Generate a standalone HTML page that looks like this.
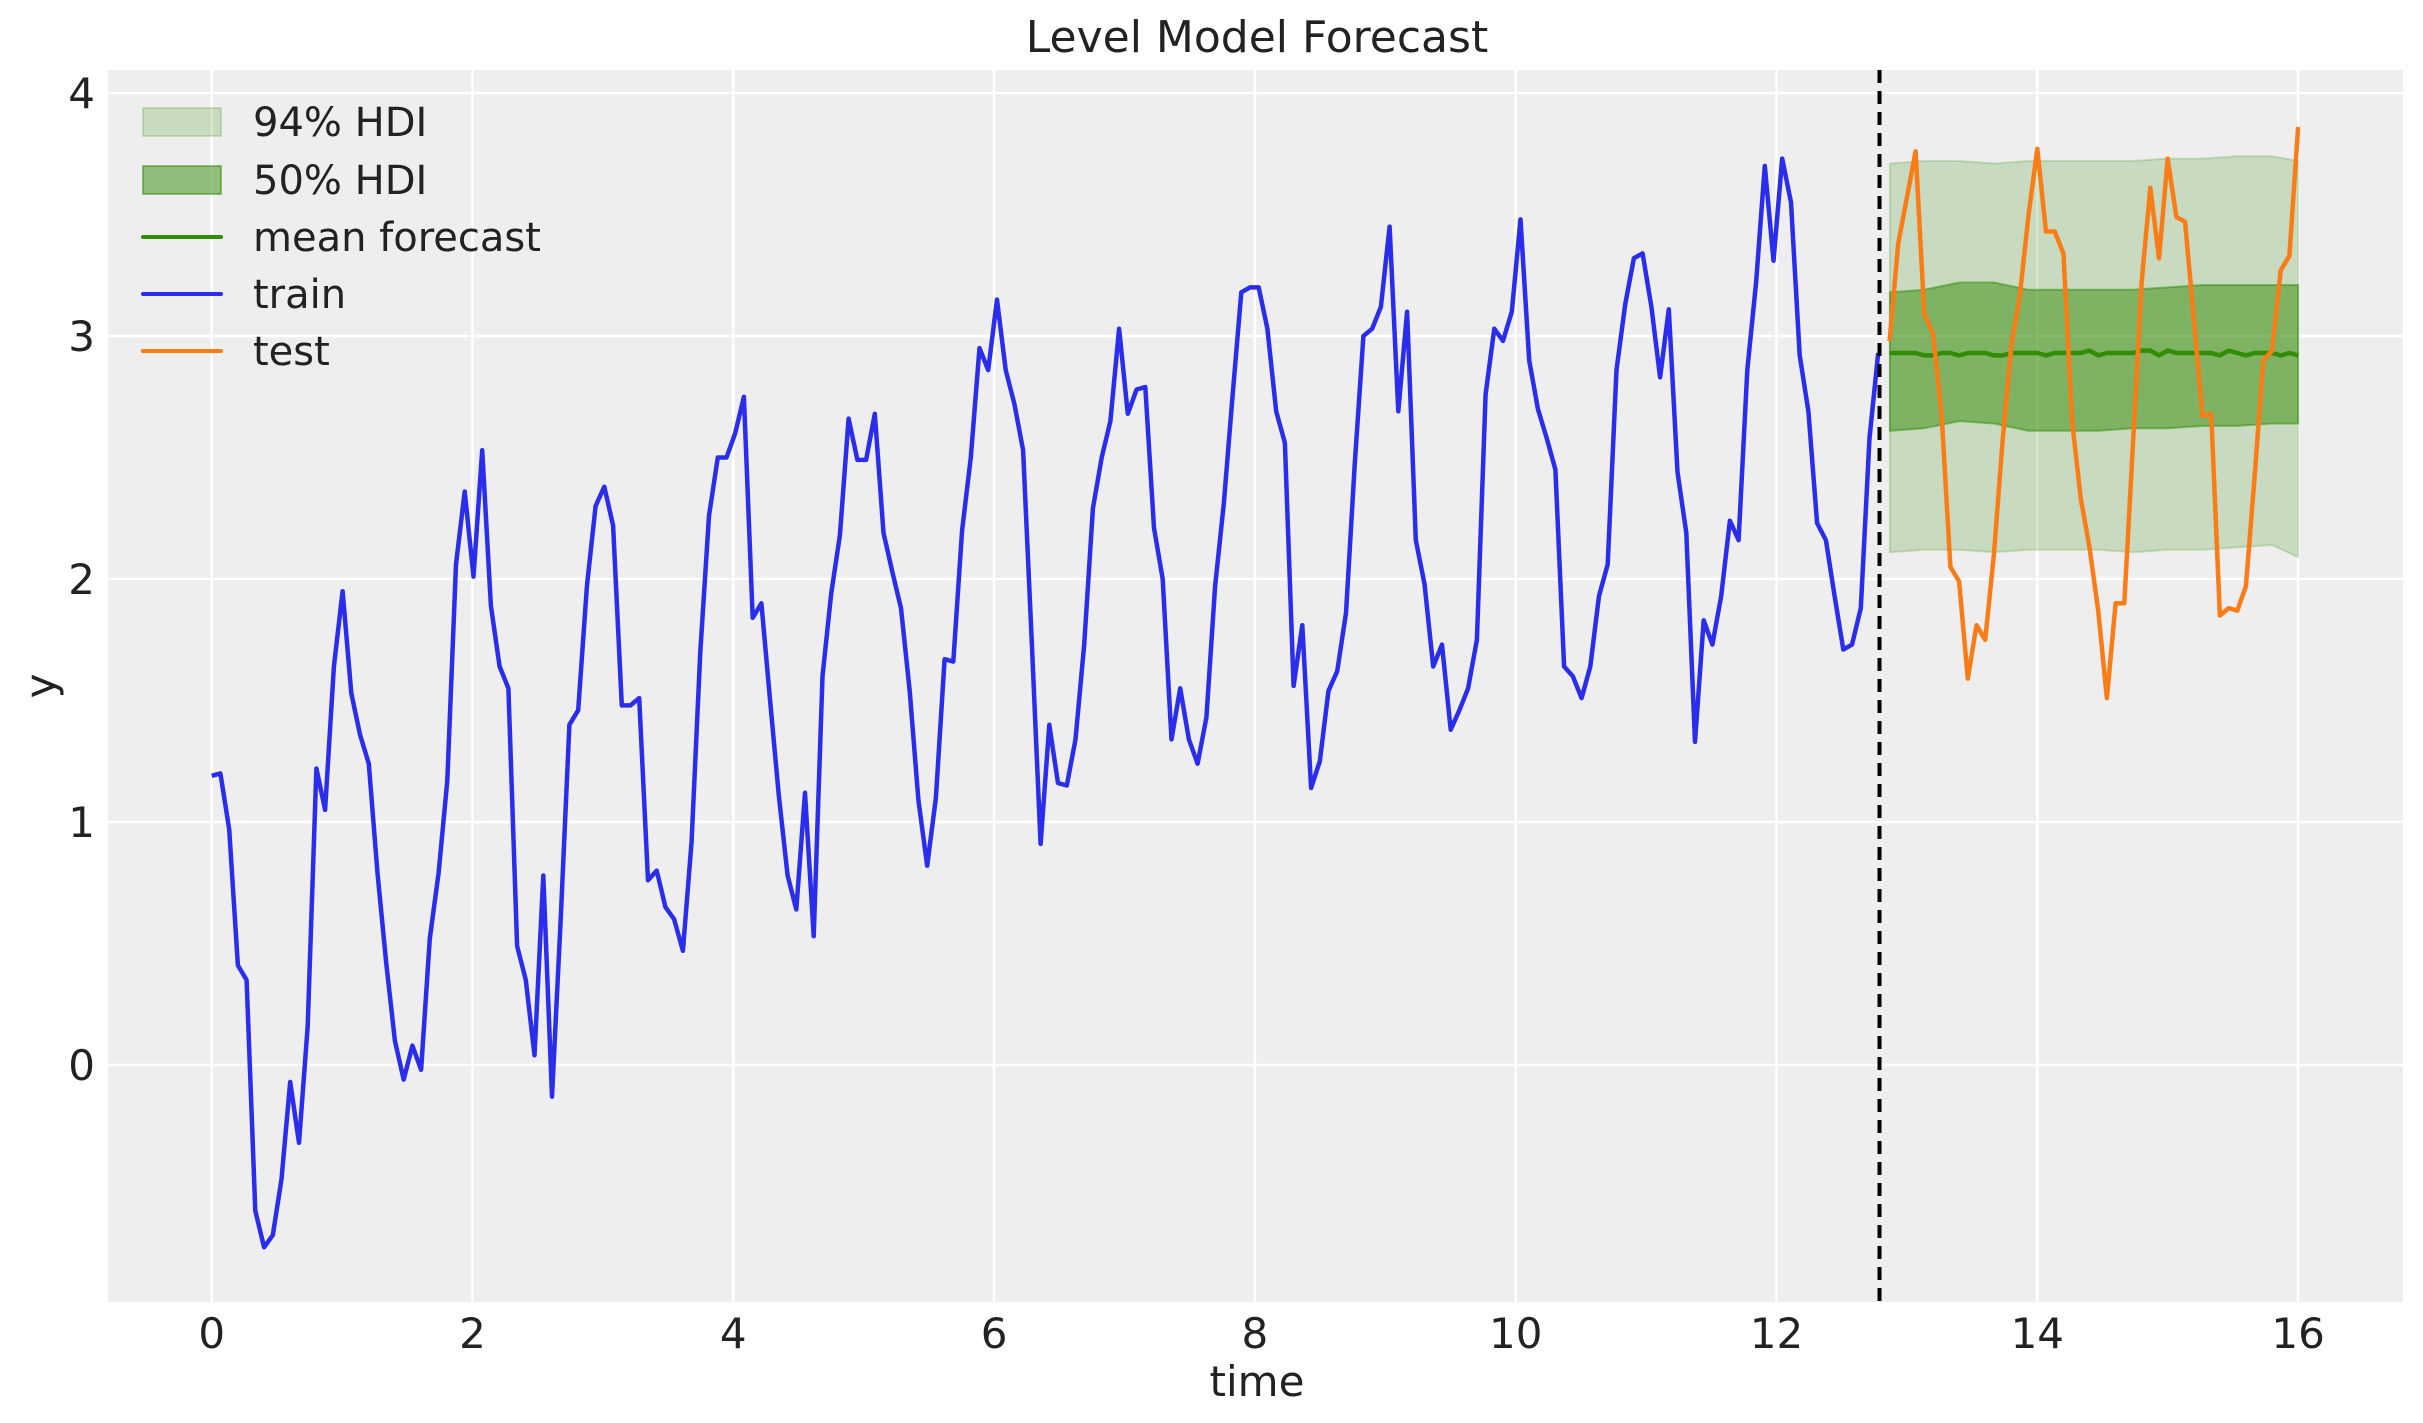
<!DOCTYPE html>
<html><head><meta charset="utf-8"><style>
html,body{margin:0;padding:0;background:#fff;}
svg{display:block;font-family:"DejaVu Sans","Liberation Sans",sans-serif;}
</style></head><body>
<svg id="chart" xmlns="http://www.w3.org/2000/svg" width="2423" height="1423" viewBox="0 0 2423 1423">
<rect x="0" y="0" width="2423" height="1423" fill="#fff"/>
<rect x="108" y="70" width="2295" height="1232" fill="#eeeeee"/>
<g id="grid"></g>
<g id="bands"></g>
<g id="lines"></g>
<g id="axes"></g>
<text x="1257" y="52" font-size="44" text-anchor="middle" fill="#222">Level Model Forecast</text>
<text x="1257" y="1396" font-size="42" text-anchor="middle" fill="#222">time</text>
<text x="0" y="0" font-size="42" text-anchor="middle" fill="#222" transform="translate(55,686) rotate(-90)">y</text>
<g>
  <rect x="143" y="108" width="78" height="28" fill="#328c06" fill-opacity="0.2" stroke="#328c06" stroke-opacity="0.2" stroke-width="2"/>
  <text x="253" y="136" font-size="40" fill="#222">94% HDI</text>
  <rect x="143" y="166" width="78" height="28" fill="#328c06" fill-opacity="0.5" stroke="#328c06" stroke-opacity="0.5" stroke-width="2"/>
  <text x="253" y="194" font-size="40" fill="#222">50% HDI</text>
  <line x1="143" y1="237" x2="221" y2="237" stroke="#328c06" stroke-width="4" stroke-linecap="round"/>
  <text x="253" y="251" font-size="40" fill="#222">mean forecast</text>
  <line x1="143" y1="294" x2="221" y2="294" stroke="#2a2eec" stroke-width="4" stroke-linecap="round"/>
  <text x="253" y="308" font-size="40" fill="#222">train</text>
  <line x1="143" y1="351" x2="221" y2="351" stroke="#fa7c17" stroke-width="4" stroke-linecap="round"/>
  <text x="253" y="365" font-size="40" fill="#222">test</text>
</g>
</svg>
<script>
const xTicks = [0, 2, 4, 6, 8, 10, 12, 14, 16];
const yTicks = [0, 1, 2, 3, 4];
const trainStart = 0, trainEnd = 12.78;
const trainY = [1.19,1.20,0.97,0.41,0.35,-0.60,-0.75,-0.70,-0.47,-0.07,-0.32,0.16,1.22,1.05,1.64,1.95,1.53,1.36,1.24,0.79,0.42,0.10,-0.06,0.08,-0.02,0.52,0.79,1.17,2.06,2.36,2.01,2.53,1.89,1.64,1.55,0.49,0.35,0.04,0.78,-0.13,0.60,1.40,1.46,1.97,2.30,2.38,2.22,1.48,1.48,1.51,0.76,0.80,0.65,0.60,0.47,0.92,1.70,2.26,2.50,2.50,2.60,2.75,1.84,1.90,
1.50,1.11,0.78,0.64,1.12,0.53,1.60,1.94,2.18,2.66,2.49,2.49,2.68,2.19,2.03,1.88,1.54,1.09,0.82,1.10,1.67,1.66,2.20,2.50,2.95,2.86,3.15,2.86,2.72,2.53,1.73,0.91,1.40,1.16,1.15,1.34,1.73,2.29,2.50,2.65,3.03,2.68,2.78,2.79,2.21,2.00,1.34,1.55,1.34,1.24,1.43,1.97,2.31,2.75,3.18,3.20,3.20,3.03,2.69,
2.56,1.56,1.81,1.14,1.25,1.54,1.62,1.86,2.47,3.00,3.03,3.12,3.45,2.69,3.10,2.16,1.98,1.64,1.73,1.38,1.46,1.55,1.75,2.76,3.03,2.98,3.10,3.48,2.90,2.70,2.58,2.45,1.64,1.60,1.51,1.64,1.93,2.06,2.86,3.13,3.32,3.34,3.12,2.83,3.11,2.44,2.19,1.33,1.83,1.73,1.93,2.24,2.16,2.86,3.22,3.70,3.31,3.73,3.55,2.92,2.69,2.23,2.16,1.93,1.71,1.73,1.88,2.58,2.93];
const testStart = 12.867, testEnd = 16.0;
const testY = [2.98,3.38,3.57,3.76,3.09,3.01,2.67,2.05,1.99,1.59,1.81,1.75,2.10,2.57,2.96,3.17,3.50,3.77,3.43,3.43,3.34,2.65,2.33,2.13,1.87,1.51,1.90,1.90,2.55,3.22,3.61,3.32,3.73,3.49,3.47,3.07,2.67,2.68,1.85,1.88,1.87,1.97,2.42,2.90,2.94,3.27,3.33,3.86];
const meanY = [2.93,2.93,2.93,2.93,2.92,2.92,2.93,2.93,2.92,2.93,2.93,2.93,2.92,2.92,2.93,2.93,2.93,2.93,2.92,2.93,2.93,2.93,2.93,2.94,2.92,2.93,2.93,2.93,2.93,2.94,2.94,2.92,2.94,2.93,2.93,2.93,2.93,2.93,2.92,2.94,2.93,2.92,2.93,2.93,2.93,2.92,2.93,2.92];
const hdiX = [12.87,13.13,13.4,13.67,13.93,14.2,14.47,14.73,15.0,15.27,15.53,15.8,16.0];
const hdi94Hi = [3.71,3.72,3.72,3.71,3.72,3.72,3.72,3.72,3.73,3.73,3.74,3.74,3.72];
const hdi94Lo = [2.11,2.12,2.12,2.11,2.12,2.12,2.12,2.11,2.12,2.12,2.13,2.14,2.09];
const hdi50Hi = [3.18,3.19,3.22,3.22,3.19,3.19,3.19,3.19,3.20,3.21,3.21,3.21,3.21];
const hdi50Lo = [2.61,2.62,2.65,2.64,2.61,2.61,2.61,2.62,2.62,2.63,2.63,2.64,2.64];
const splitX = 12.79;

const NS = "http://www.w3.org/2000/svg";
const X0 = 211.7, XS = 130.4, Y0 = 1065, YS = 243;
const sx = v => X0 + v * XS;
const sy = v => Y0 - v * YS;
function mk(tag, attrs, parent) {
  const el = document.createElementNS(NS, tag);
  for (const k in attrs) el.setAttribute(k, attrs[k]);
  parent.appendChild(el);
  return el;
}
const grid = document.getElementById('grid');
const axes = document.getElementById('axes');
const bands = document.getElementById('bands');
const lines = document.getElementById('lines');
xTicks.forEach(t => {
  const g = mk('line', {x1: sx(t), x2: sx(t), y1: 70, y2: 1302, stroke: '#fff', 'stroke-width': 2.5}, grid);
  
  
  const l = mk('text', {x: sx(t), y: 1348, 'font-size': 42, 'text-anchor': 'middle', fill: '#222'}, axes);
  l.textContent = t;
  
  
});
yTicks.forEach(t => {
  const g = mk('line', {x1: 108, x2: 2403, y1: sy(t), y2: sy(t), stroke: '#fff', 'stroke-width': 2.5}, grid);
  
  
  const l = mk('text', {x: 95, y: sy(t) + 15, 'font-size': 42, 'text-anchor': 'end', fill: '#222'}, axes);
  l.textContent = t;
  
  
});
function band(hi, lo, op, name) {
  let d = hdiX.map((x, i) => (i ? 'L' : 'M') + sx(x).toFixed(1) + ',' + sy(hi[i]).toFixed(1)).join('');
  for (let i = hdiX.length - 1; i >= 0; i--) d += 'L' + sx(hdiX[i]).toFixed(1) + ',' + sy(lo[i]).toFixed(1);
  const p = mk('path', {d: d + 'Z', fill: '#328c06', 'fill-opacity': op, stroke: '#328c06', 'stroke-opacity': op, 'stroke-width': 2}, bands);
  
  
}
band(hdi94Hi, hdi94Lo, 0.2, 'hdi-94-band');
band(hdi50Hi, hdi50Lo, 0.5, 'hdi-50-band');
function series(vals, start, end, color, name, w) {
  const step = (end - start) / (vals.length - 1);
  const pts = vals.map((v, i) => sx(start + i * step).toFixed(1) + ',' + sy(v).toFixed(1)).join(' ');
  const p = mk('polyline', {points: pts, fill: 'none', stroke: color, 'stroke-width': w, 'stroke-linejoin': 'round'}, lines);
  
  
}
series(meanY, testStart, testEnd, '#328c06', 'mean-forecast-line', 4.5);
series(trainY, trainStart, trainEnd, '#2a2eec', 'train-line', 4.5);
series(testY, testStart, testEnd, '#fa7c17', 'test-line', 4.5);
const dl = mk('line', {x1: sx(splitX), x2: sx(splitX), y1: 70, y2: 1302, stroke: '#000', 'stroke-width': 4, 'stroke-dasharray': '13,8'}, lines);


</script>
</body></html>
